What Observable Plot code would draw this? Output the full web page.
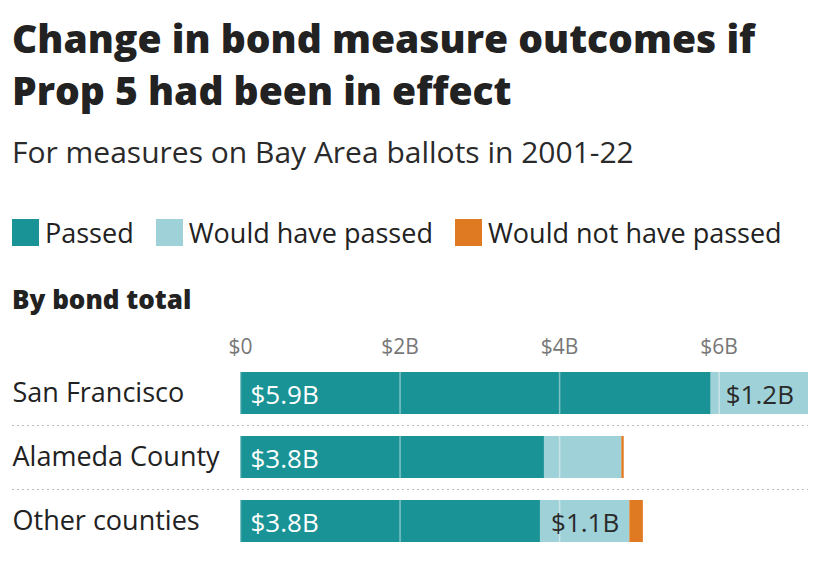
<!DOCTYPE html>
<html>
<head>
<meta charset="utf-8">
<script src="https://cdn.jsdelivr.net/npm/d3@7"></script>
<script src="https://cdn.jsdelivr.net/npm/@observablehq/plot@0.6"></script>
<style>
  html, body { margin: 0; padding: 0; background: #fff; }
  body { width: 820px; height: 570px; overflow: hidden; font-family: "Open Sans", "Noto Sans", sans-serif; color: #222; position: relative; }
  .title { position: absolute; left: 12px; top: 12px; font-size: 39px; font-weight: 800; line-height: 52px; letter-spacing: 0px; white-space: nowrap; }
  .subtitle { position: absolute; left: 12px; top: 131px; font-size: 30px; font-weight: 400; color: #2a2a2a; white-space: nowrap; }
  .legend { position: absolute; left: 12px; top: 214px; display: flex; align-items: center; font-size: 27px; white-space: nowrap; }
  .legend .item { display: flex; align-items: center; margin-right: 22px; }
  .legend .sw { width: 27px; height: 27px; margin-right: 6px; }
  .section { position: absolute; left: 12px; top: 281px; font-size: 26px; font-weight: 800; }
  #chart { position: absolute; left: 0; top: 325px; }
</style>
</head>
<body>
<div class="title">Change in bond measure outcomes if<br>Prop 5 had been in effect</div>
<div class="subtitle">For measures on Bay Area ballots in 2001-22</div>
<div class="legend" id="legend"></div>
<div class="section">By bond total</div>
<div id="chart"></div>
<script>
const regions = ["San Francisco", "Alameda County", "Other counties"];
const categories = ["Passed", "Would have passed", "Would not have passed"];
const colors = ["#1a9396", "#9fd1d8", "#e07a22"];
// values in $ billions, per region: [passed, would have passed, would not have passed]
const passed = [5.9, 3.81, 3.76];
const wouldHave = [1.22, 0.97, 1.12];
const wouldNot = [0.0, 0.03, 0.17];
const passedLabels = ["$5.9B", "$3.8B", "$3.8B"];
const wouldHaveLabels = ["$1.2B", "", "$1.1B"];
const xTicks = [0, 2, 4, 6];
const xTickLabels = ["$0", "$2B", "$4B", "$6B"];

const rows = [];
regions.forEach((r, i) => {
  rows.push({region: r, category: categories[0], value: passed[i], startLabel: passedLabels[i], midLabel: ""});
  rows.push({region: r, category: categories[1], value: wouldHave[i], startLabel: "", midLabel: wouldHaveLabels[i]});
  rows.push({region: r, category: categories[2], value: wouldNot[i], startLabel: "", midLabel: ""});
});

const legend = document.getElementById("legend");
categories.forEach((c, i) => {
  const it = document.createElement("div");
  it.className = "item";
  it.innerHTML = `<div class="sw" style="background:${colors[i]}"></div><span>${c}</span>`;
  legend.appendChild(it);
});

const total = d3.max(regions.map((r, i) => passed[i] + wouldHave[i] + wouldNot[i]));

const chart = Plot.plot({
  width: 820,
  height: 238,
  marginLeft: 240,
  marginRight: 12,
  marginTop: 36,
  marginBottom: 10,
  style: {fontFamily: "'Open Sans', 'Noto Sans', sans-serif", background: "transparent"},
  x: {domain: [0, total], axis: null},
  y: {domain: regions, axis: null, paddingInner: 0.34, paddingOuter: 0.17},
  color: {domain: categories, range: colors},
  marks: [
    Plot.ruleY(regions.slice(0, -1), {y: d => d, dy: 32, stroke: "#bbb", strokeDasharray: "2,3", strokeWidth: 1.2, insetLeft: -228}),
    Plot.barX(rows, Plot.stackX({x: "value", y: "region", fill: "category", z: "category", order: categories})),
    Plot.gridX(xTicks, {stroke: "white", strokeOpacity: 0.45, strokeWidth: 1.5}),
    Plot.axisX({anchor: "top", ticks: xTicks, tickFormat: d => xTickLabels[xTicks.indexOf(d)], tickSize: 0, tickPadding: 8, fontSize: 21, color: "#777", label: null, style: {letterSpacing: "1px"}}),
    Plot.text(rows, {x: 0, y: "region", text: "startLabel", textAnchor: "start", dx: 10, fill: "white", fontSize: 26, dy: 2}),
    Plot.text(rows, Plot.stackX({x: "value", y: "region", z: "category", order: categories, text: "midLabel", fill: "#2a2a2a", fontSize: 26, dy: 2})),
    Plot.text(regions, {y: d => d, frameAnchor: "left", textAnchor: "start", dx: -228, fontSize: 27, fill: "#222"})
  ]
});
document.getElementById("chart").appendChild(chart);
</script>
</body>
</html>
